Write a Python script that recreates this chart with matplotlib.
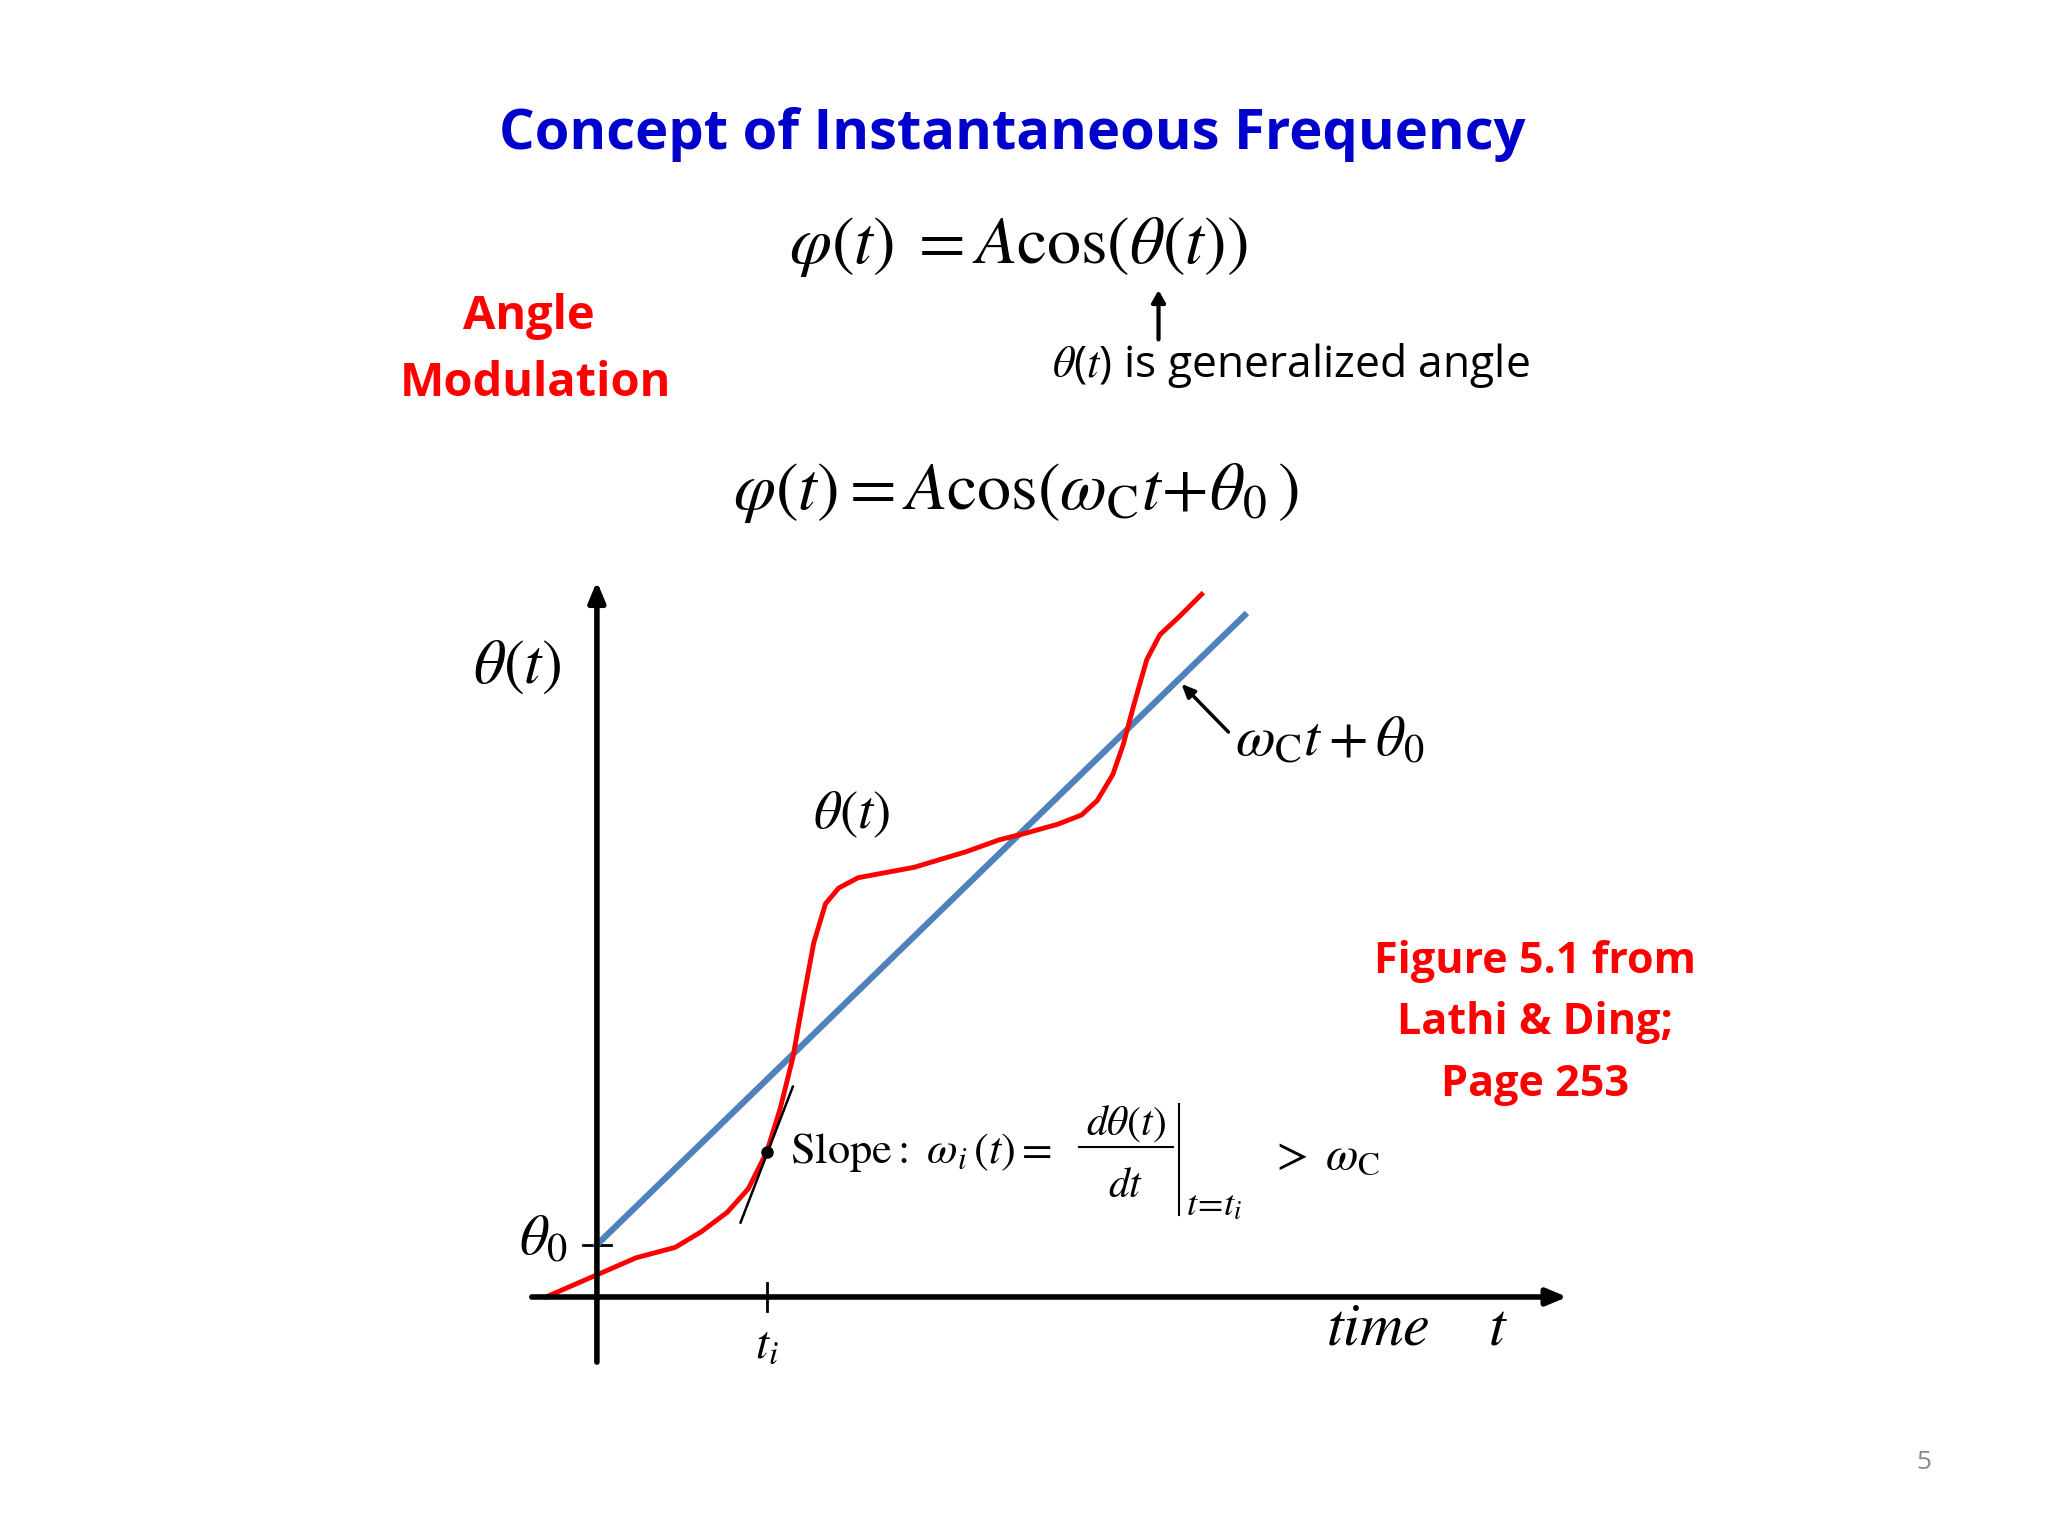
import matplotlib
matplotlib.use("Agg")
import matplotlib.pyplot as plt

plt.rcParams['mathtext.fontset'] = 'stix'

# red curve theta(t) (image-pixel coordinates of the slide)
red_x = [418, 487, 517, 537, 557, 573, 587, 597, 607, 615, 623, 632, 642, 657, 700, 740, 765, 785, 810, 828, 840, 852, 860, 868, 878, 888, 903, 920]
red_y = [993, 963, 955, 943, 928, 910, 882, 850, 810, 765, 722, 692, 680, 672, 664, 652, 643, 638, 631, 624, 613, 593, 570, 540, 505, 486, 472, 455]
# blue line wc t + theta0
blue_x = [457, 953]
blue_y = [953, 471]
# tangent at t_i
tan_x = [567, 607]
tan_y = [936, 832]
pt_x, pt_y = 587, 882

fig = plt.figure(figsize=(20.48, 15.36), dpi=100)
ax = fig.add_axes([0, 0, 1, 1])
ax.set_xlim(0, 1568)
ax.set_ylim(1176, 0)
ax.axis('off')

S = 1.306 * 0.72  # display px -> pt

ax.annotate('', xy=(1202, 993), xytext=(405, 993),
            arrowprops=dict(arrowstyle='-|>,head_width=0.5,head_length=1.2', lw=4, color='black'))
ax.annotate('', xy=(457, 443), xytext=(457, 1045),
            arrowprops=dict(arrowstyle='-|>,head_width=0.5,head_length=1.2', lw=4, color='black'))
ax.plot([587, 587], [982, 1004], color='black', lw=2)
ax.plot([446, 468], [953, 953], color='black', lw=2)

ax.plot(blue_x, blue_y, color='#4f81bd', lw=4.5)
ax.plot(red_x, red_y, color='#ff0000', lw=3.5)
ax.plot(tan_x, tan_y, color='black', lw=1.8)
ax.plot([pt_x], [pt_y], 'o', color='black', ms=8)

ax.annotate('', xy=(903, 522), xytext=(942, 562),
            arrowprops=dict(arrowstyle='-|>,head_width=0.35,head_length=0.8', lw=2.5, color='black'))

ax.text(775, 103, 'Concept of Instantaneous Frequency', color='#0000cc', fontsize=43 * S,
        fontweight='bold', ha='center', va='center', family='Open Sans')
ax.text(780, 188, r'$\varphi(t)\;=A\cos(\theta(t))$', fontsize=52 * S, ha='center', va='center')
ax.annotate('', xy=(887, 220), xytext=(887, 262),
            arrowprops=dict(arrowstyle='-|>,head_width=0.4,head_length=0.7', lw=3, color='black'))
ax.text(988, 280, r'$\theta$($\it{t}$) is generalized angle', fontsize=34 * S, ha='center', va='center',
        family='Open Sans')
ax.text(405, 242, 'Angle', color='#ff0000', fontsize=36 * S, fontweight='bold', ha='center', va='center',
        family='Open Sans')
ax.text(410, 294, 'Modulation', color='#ff0000', fontsize=36 * S, fontweight='bold', ha='center', va='center',
        family='Open Sans')
ax.text(778, 377, r'$\varphi(t) = A\cos(\omega_{\mathrm{C}} t\!+\!\theta_0\,)$', fontsize=52 * S, ha='center', va='center')

ax.text(396, 510, r'$\theta(t)$', fontsize=48 * S, ha='center', va='center')
ax.text(652, 623, r'$\theta(t)$', fontsize=42 * S, ha='center', va='center')
ax.text(1018, 566, r'$\omega_{\mathrm{C}} t + \theta_0$', fontsize=44 * S, ha='center', va='center')
ax.text(416, 948, r'$\theta_0$', fontsize=44 * S, ha='center', va='center')
ax.text(587, 1030, r'$t_i$', fontsize=36 * S, ha='center', va='center')
ax.text(1055, 1017, r'$time$', fontsize=46 * S, ha='center', va='center')
ax.text(1147, 1017, r'$t$', fontsize=46 * S, ha='center', va='center')

ax.text(605, 882, r'$\mathrm{Slope:}\ \omega_i\,(t) =$', fontsize=34 * S, ha='left', va='center')
ax.text(862, 860, r'$d\theta(t)$', fontsize=32 * S, ha='center', va='center')
ax.plot([826, 898], [878, 878], color='black', lw=1.5)
ax.text(862, 907, r'$dt$', fontsize=32 * S, ha='center', va='center')
ax.plot([903, 903], [845, 930], color='black', lw=1.5)
ax.text(908, 922, r'$t\!=\!t_i$', fontsize=28 * S, ha='left', va='center')
ax.text(972, 885, r'$>\;\omega_{\mathrm{C}}$', fontsize=36 * S, ha='left', va='center')

for y, s in [(736, 'Figure 5.1 from'), (783, 'Lathi & Ding;'), (830, 'Page 253')]:
    ax.text(1175, y, s, color='#ff0000', fontsize=33 * S, fontweight='bold', ha='center', va='center',
            family='Open Sans')
ax.text(1473, 1120, '5', color='#888888', fontsize=20 * S, ha='center', va='center', family='Open Sans')

fig.savefig('out.png', dpi=100)
